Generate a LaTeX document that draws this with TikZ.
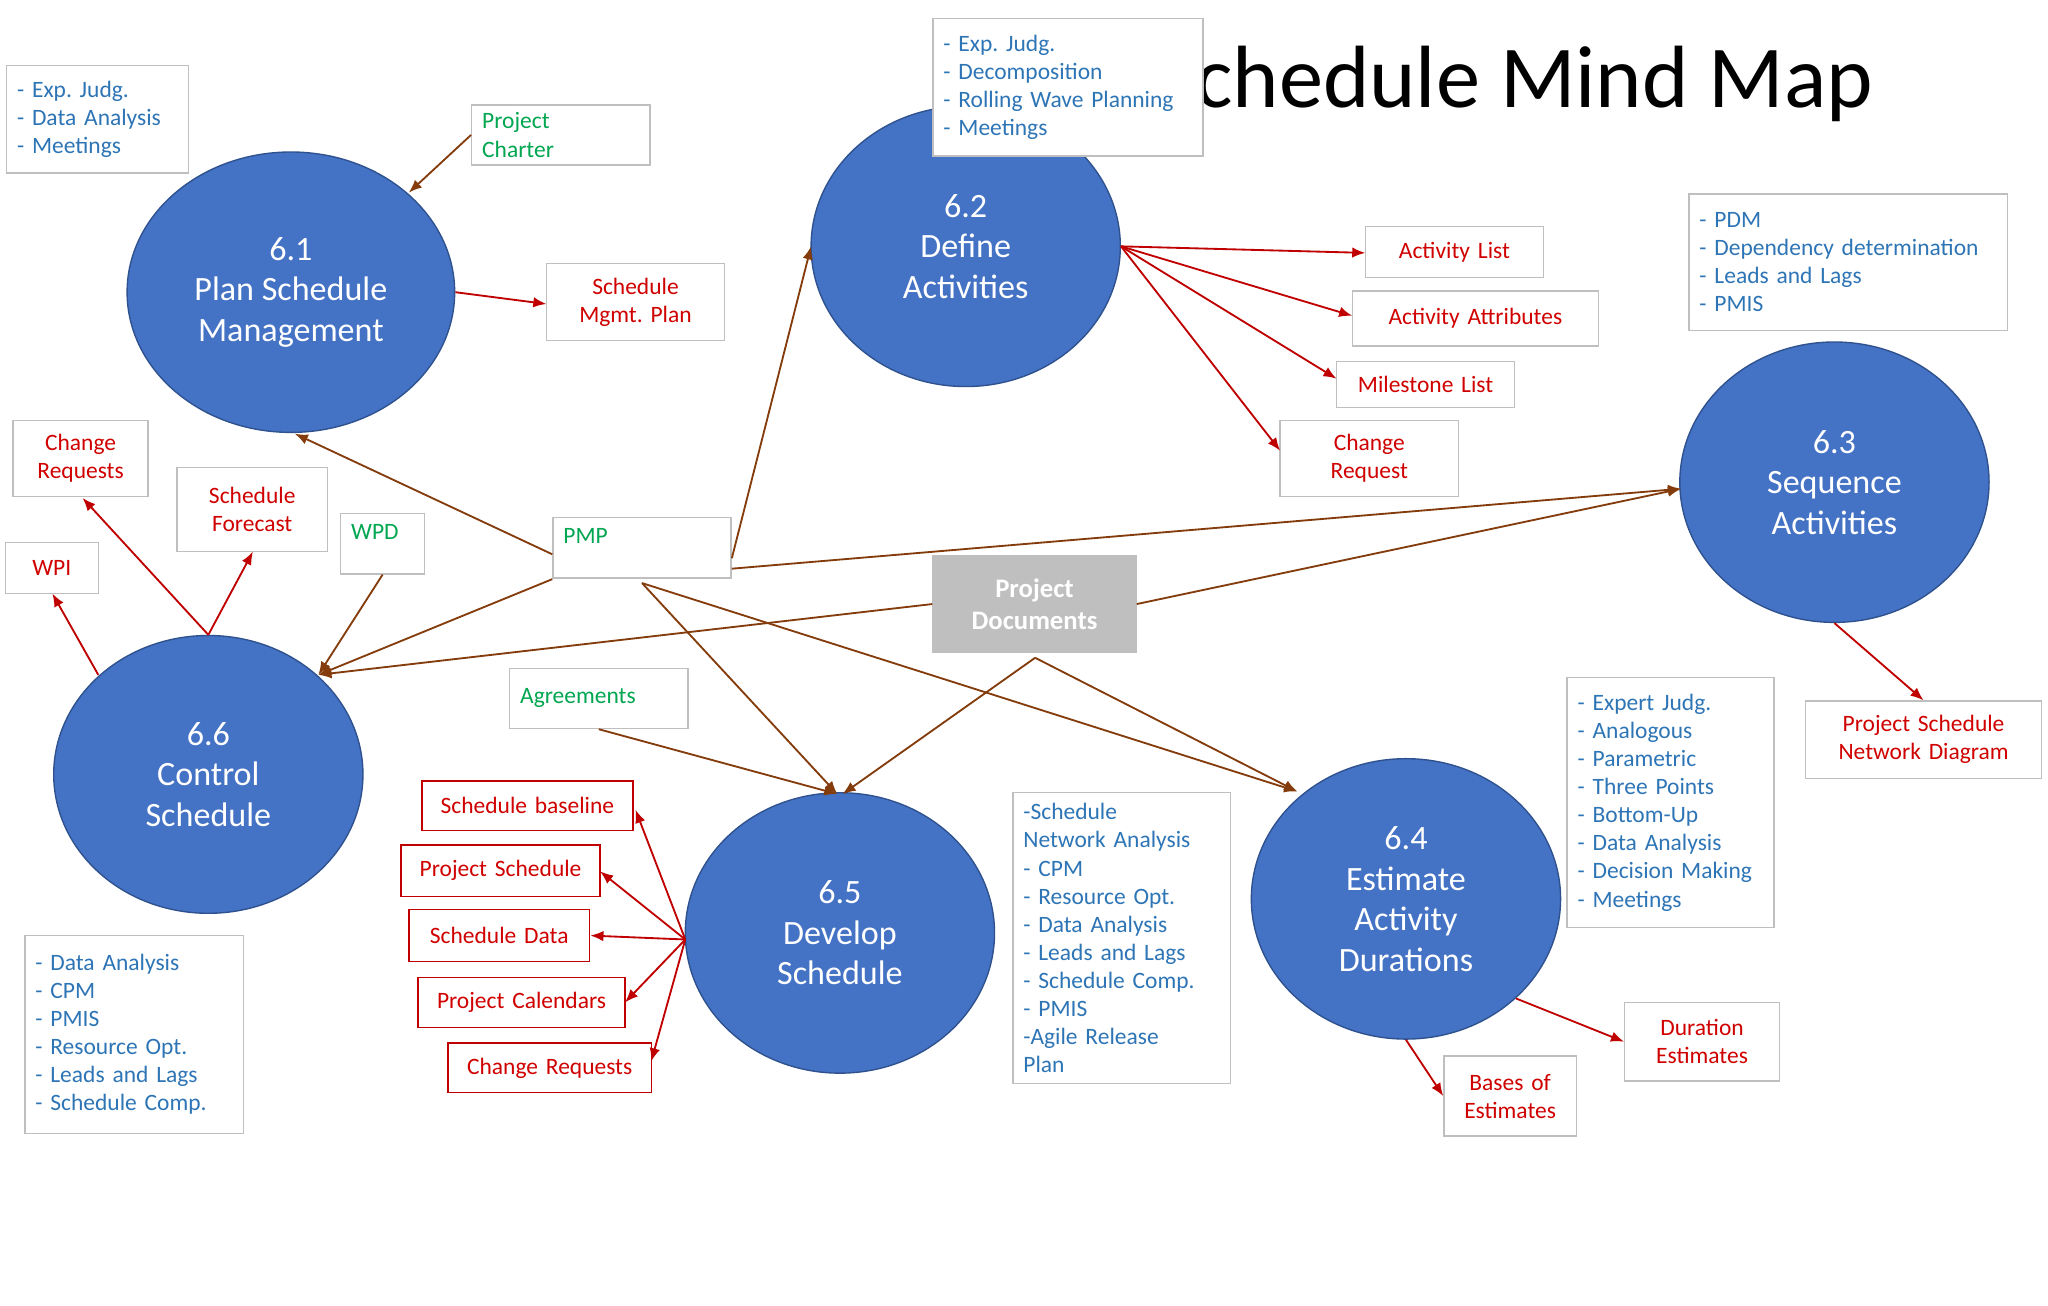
\documentclass[tikz,border=0pt]{standalone}
\usepackage{fontspec}
\setmainfont{Carlito}
\frenchspacing
\usetikzlibrary{arrows.meta,shapes.geometric}
\definecolor{cfill}{HTML}{4472C4}
\definecolor{cline}{HTML}{2F528F}
\definecolor{tblue}{HTML}{2E75B6}
\definecolor{tgreen}{HTML}{00A650}
\definecolor{tred}{HTML}{D00000}
\definecolor{abrown}{HTML}{843C0C}
\definecolor{ared}{HTML}{C00000}
\definecolor{bgray}{HTML}{BFBFBF}
\definecolor{pdgray}{HTML}{BFBFBF}
\tikzset{
 proc/.style={ellipse,draw=cline,line width=1.5pt,fill=cfill,text=white,align=center,font=\fontsize{37}{44}\selectfont,inner sep=0pt},
 box/.style={rectangle,draw=bgray,line width=1.5pt,fill=white,inner ysep=2pt,inner xsep=0.4cm,font=\fontsize{25.5}{30.5}\selectfont},
 lst/.style={box,text=tblue,align=left},
 grn/.style={box,text=tgreen,align=left},
 rd/.style={box,text=tred,align=center},
 rdb/.style={box,draw=ared,text=tred,align=center},
 ba/.style={draw=abrown,line width=2pt,-{Latex[length=0.5cm,width=0.4cm]}},
 ra/.style={draw=ared,line width=2pt,-{Latex[length=0.5cm,width=0.4cm]}},
}
\newcommand\bx[7]{\node[#6,minimum width={(#4-#2)*0.05cm},minimum height={(#5-#3)*0.05cm},text width={(#4-#2)*0.05cm-0.8cm}] (#1) at ({(#2+#4)/2},{-(#3+#5)/2}) {#7};}
\newcommand\pr[6]{\node[proc,minimum width={2*#4*0.05cm},minimum height={2*#5*0.05cm}] (#1) at (#2,-#3) {#6};}
\begin{document}
\begin{tikzpicture}[x=0.05cm,y=0.05cm]
\useasboundingbox[fill=white] (0,0) rectangle (1563,-996);
\node[anchor=base west,inner sep=0pt,font=\fontsize{96}{96}\selectfont] (title) at (912,-82) {chedule Mind Map};
% circles
\pr{p1}{222}{223}{125}{107}{6.1\\Plan Schedule\\Management}
\pr{p2}{737}{188}{118}{107}{6.2\\Define\\Activities}
\pr{p3}{1400}{368}{118}{107}{6.3\\Sequence\\Activities}
\pr{p4}{1073}{686}{118}{107}{6.4\\Estimate\\Activity\\Durations}
\pr{p5}{641}{712}{118}{107}{6.5\\Develop\\Schedule}
\pr{p6}{159}{591}{118}{106}{6.6\\Control\\Schedule}
% boxes
\bx{t1}{5}{50}{144}{132}{lst}{- Exp. Judg.\\- Data Analysis\\- Meetings}
\bx{pc}{360}{80}{496}{126}{grn}{Project\\Charter}
\bx{smp}{417}{201}{553}{260}{rd}{Schedule\\Mgmt. Plan}
\bx{t2}{712}{14}{918}{119}{lst}{- Exp. Judg.\\- Decomposition\\- Rolling Wave Planning\\- Meetings}
\bx{al}{1042}{173}{1178}{212}{rd}{Activity List}
\bx{aa}{1032}{222}{1220}{264}{rd}{Activity Attributes}
\bx{ml}{1020}{276}{1156}{311}{rd}{Milestone List}
\bx{cr2}{977}{321}{1113}{379}{rd}{Change\\Request}
\bx{t3}{1289}{148}{1532}{252}{lst}{- PDM\\- Dependency determination\\- Leads and Lags\\- PMIS}
\bx{psnd}{1378}{535}{1558}{594}{rd}{Project Schedule\\Network Diagram}
\bx{t4}{1196}{517}{1354}{708}{lst}{- Expert Judg.\\- Analogous\\- Parametric\\- Three Points\\- Bottom-Up\\- Data Analysis\\- Decision Making\\- Meetings}
\bx{de}{1240}{765}{1358}{825}{rd}{Duration\\Estimates}
\bx{be}{1102}{806}{1203}{867}{rd}{Bases of\\Estimates}
\bx{t5}{773}{605}{939}{827}{lst}{-Schedule\\Network Analysis\\- CPM\\- Resource Opt.\\- Data Analysis\\- Leads and Lags\\- Schedule Comp.\\- PMIS\\-Agile Release\\Plan}
\bx{ag}{389}{510}{525}{556}{grn}{Agreements}
\bx{pd}{712}{424}{867}{498}{box,fill=pdgray,draw=bgray,text=white,align=center,font=\fontsize{29}{35}\selectfont\bfseries}{Project\\Documents}
\bx{pmp}{422}{395}{558}{441}{grn,text depth=0.9cm}{PMP}
\bx{wpd}{260}{392}{324}{438}{grn,inner xsep=0.25cm,text width=1.9cm,text depth=0.9cm}{WPD}
\bx{sf}{135}{357}{250}{421}{rd}{Schedule\\Forecast}
\bx{cr6}{10}{321}{113}{379}{rd}{Change\\Requests}
\bx{wpi}{4}{414}{75}{453}{rd}{WPI}
\bx{t6}{19}{714}{186}{865}{lst}{- Data Analysis\\- CPM\\- PMIS\\- Resource Opt.\\- Leads and Lags\\- Schedule Comp.}
\bx{sb}{322}{596}{483}{634}{rdb}{Schedule baseline}
\bx{ps}{306}{645}{458}{684}{rdb}{Project Schedule}
\bx{sd}{312}{694}{450}{734}{rdb}{Schedule Data}
\bx{pcal}{319}{746}{477}{784}{rdb}{Project Calendars}
\bx{cr5}{342}{796}{497}{834}{rdb}{Change Requests}
% helper coordinates
\coordinate (p1a) at (312,-147); \coordinate (p1b) at (225,-331);
\coordinate (p2a) at (619,-188);
\coordinate (p3a) at (1283,-373);
\coordinate (p6a) at (243,-515);
\coordinate (p5a) at (639,-606); \coordinate (p5b) at (643,-606);
\coordinate (p4a) at (990,-604);
\coordinate (pmpA) at (490,-445);
\coordinate (pdB) at (790,-502);
% brown arrows
\draw[ba] (pc.west) -- (p1a);
\draw[ba] (pmp.west) ++(0,-5) -- (p1b);
\draw[ba] ([yshift=-0.4cm]pmp.east) -- (p2a);
\draw[ba] ([yshift=-0.8cm]pmp.east) -- (p3a);
\draw[ba] ([yshift=-1.2cm]pmp.west) -- (p6a);
\draw[ba] (pmpA) -- (p5a);
\draw[ba] (pmpA) -- (p4a);
\draw[ba] (pd.west) -- (p6a);
\draw[ba] (pd.east) -- (p3a);
\draw[ba] (pdB) -- (p5b);
\draw[ba] (pdB) -- (p4a);
\draw[ba] (ag.south) -- (p5a);
\draw[ba] (wpd.south) -- (p6a);
% red arrows
\draw[ra] (p1.east) -- (417,-232);
\draw[ra] (p2.east) -- (1042,-193);
\draw[ra] (p2.east) -- (1032,-241);
\draw[ra] (p2.east) -- (1020,-289);
\draw[ra] (p2.east) -- (977,-344);
\draw[ra] (p3.south) -- (psnd.north);
\draw[ra] (1157,-762) -- (de.west);
\draw[ra] (p4.south) -- (be.west);
\coordinate (p5w) at (523,-717);
\draw[ra] (p5w) -- (485,-618);
\draw[ra] (p5w) -- (458,-665);
\draw[ra] (p5w) -- (sd.east);
\draw[ra] (p5w) -- (477,-765);
\draw[ra] (p5w) -- (497,-810);
\draw[ra] (p6.north) -- (63,-380);
\draw[ra] (p6.north) -- (193,-421);
\draw[ra] (75,-515) -- (40,-453);
\end{tikzpicture}
\end{document}
